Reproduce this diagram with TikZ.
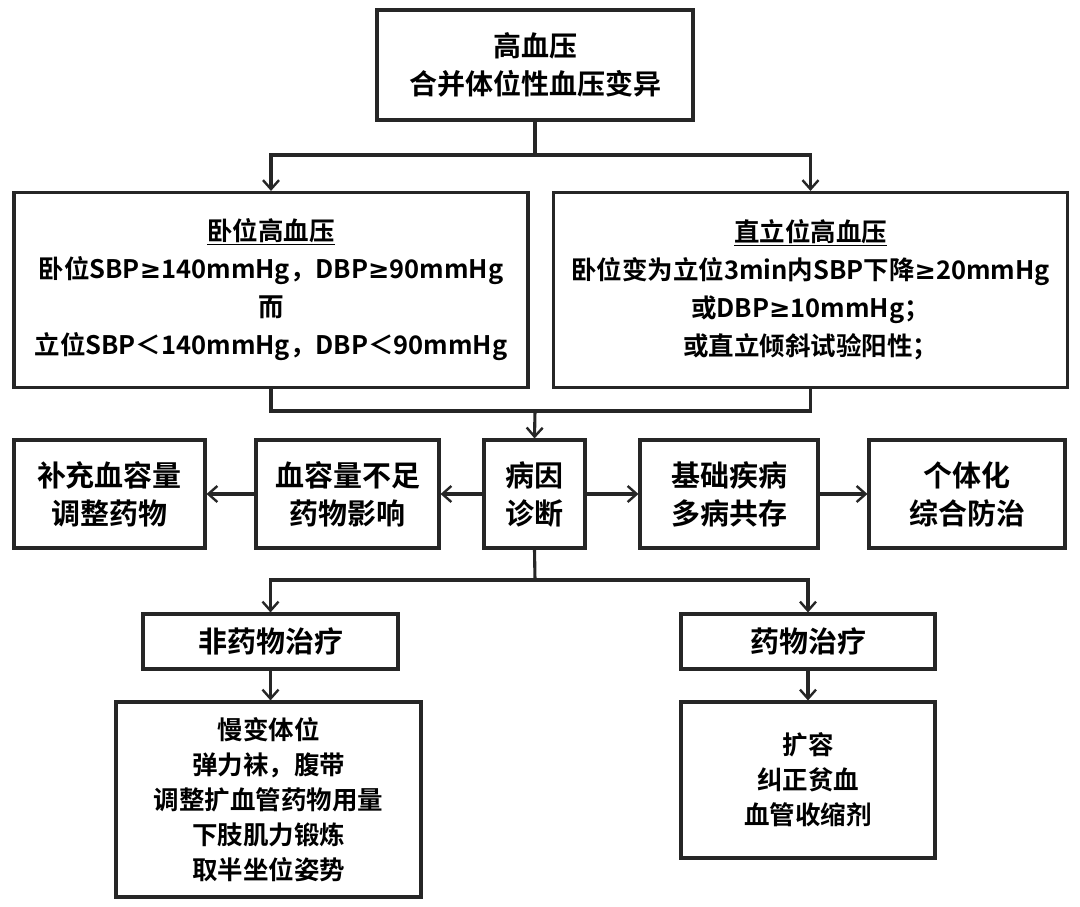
\documentclass[tikz,border=0pt]{standalone}
\usepackage{fontspec}
\setmainfont{Noto Sans CJK SC}[BoldFont={Noto Sans CJK SC Bold}]
\newfontfamily\symf{DejaVu Sans}
\newcommand{\gee}{{\symf\textbf{≥}}}
\usetikzlibrary{arrows.meta}
\tikzset{
  box/.style={draw=black!85, line width=3.1pt, rectangle, inner sep=0pt, align=center, font=\bfseries},
  conn/.style={draw=black!85, line width=3.1pt},
  arr/.style={conn, -{Straight Barb[length=9pt,width=16pt,line width=2.4pt]}},
}
\begin{document}
\begin{tikzpicture}[x=1pt,y=-1pt]
\useasboundingbox[fill=white] (0,0) rectangle (1080,906);
% top
\node[box, minimum width=316pt, minimum height=110pt, font=\bfseries\fontsize{28}{38}\selectfont] (top) at (535,65) {高血压\\合并体位性血压变异};
% second row
\node[box, minimum width=514pt, minimum height=195pt, font=\bfseries\fontsize{25.5}{38}\selectfont] (L) at (271,290)
  {\underline{卧位高血压}\\卧位SBP\gee 140mmHg，DBP\gee 90mmHg\\而\\立位SBP＜140mmHg，DBP＜90mmHg};
\node[box, minimum width=514pt, minimum height=195pt, font=\bfseries\fontsize{25.5}{38}\selectfont] (R) at (810.5,290)
  {\underline{直立位高血压}\\卧位变为立位3min内SBP下降\gee 20mmHg\\或DBP\gee 10mmHg；\\或直立倾斜试验阳性；};
% middle row
\tikzset{mid/.style={box, minimum height=108pt, font=\bfseries\fontsize{29}{38}\selectfont}}
\node[mid, minimum width=191pt] (A) at (109.5,494) {补充血容量\\调整药物};
\node[mid, minimum width=183pt] (B) at (347.5,494) {血容量不足\\药物影响};
\node[mid, minimum width=101pt] (C) at (534.5,494) {病因\\诊断};
\node[mid, minimum width=178pt] (D) at (729,494) {基础疾病\\多病共存};
\node[mid, minimum width=196pt] (E) at (967,494) {个体化\\综合防治};
% treatment
\node[box, minimum width=255pt, minimum height=55pt, font=\bfseries\fontsize{29}{35}\selectfont] (N1) at (270.5,641.5) {非药物治疗};
\node[box, minimum width=254pt, minimum height=55pt, font=\bfseries\fontsize{29}{35}\selectfont] (N2) at (808,641.5) {药物治疗};
\node[box, minimum width=305pt, minimum height=195pt, font=\bfseries\fontsize{25.5}{35}\selectfont] (BL) at (268.5,799.5)
  {慢变体位\\弹力袜，腹带\\调整扩血管药物用量\\下肢肌力锻炼\\取半坐位姿势};
\node[box, minimum width=254pt, minimum height=156pt, font=\bfseries\fontsize{25.5}{35}\selectfont] (BR) at (808,780)
  {扩容\\纠正贫血\\血管收缩剂};
% connectors
\coordinate (j1) at (535,155);
\coordinate (j2) at (535,411);
\coordinate (j3) at (535,580);
\draw[conn] (top.south) -- (j1);
\draw[arr] (j1) -| (L.north);
\draw[arr] (j1) -| (R.north);
\draw[conn] (L.south) |- (j2);
\draw[conn] (R.south) |- (j2);
\draw[arr] (j2) -- (C.north);
\draw[arr] (C.west) -- (B.east);
\draw[arr] (B.west) -- (A.east);
\draw[arr] (C.east) -- (D.west);
\draw[arr] (D.east) -- (E.west);
\draw[conn] (C.south) -- (j3);
\draw[arr] (j3) -| (N1.north);
\draw[arr] (j3) -| (N2.north);
\draw[arr] (N1.south) -- (BL.north -| N1.south);
\draw[arr] (N2.south) -- (BR.north);
\end{tikzpicture}
\end{document}
